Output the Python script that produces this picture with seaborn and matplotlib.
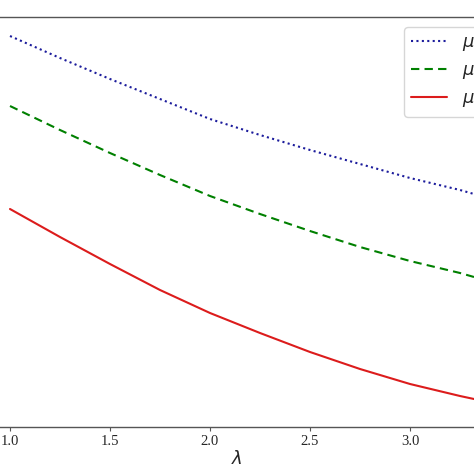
import numpy as np
import pandas as pd
import matplotlib
matplotlib.use("Agg")
import matplotlib.pyplot as plt
import seaborn as sns

# values (y in arbitrary units, the y axis is cut off)
lam = [1.0, 1.25, 1.5, 1.75, 2.0, 2.25, 2.5, 2.75, 3.0, 3.25, 3.32]
mu_1 = [3.91, 3.69, 3.48, 3.28, 3.08, 2.92, 2.77, 2.63, 2.49, 2.37, 2.33]
mu_2 = [3.21, 2.97, 2.74, 2.52, 2.31, 2.13, 1.96, 1.80, 1.66, 1.54, 1.50]
mu_3 = [2.18, 1.90, 1.63, 1.37, 1.14, 0.94, 0.75, 0.58, 0.43, 0.31, 0.28]
labels = [r"$\mu_1$", r"$\mu_2$", r"$\mu_3$"]

df = pd.DataFrame({"lam": lam, labels[0]: mu_1, labels[1]: mu_2, labels[2]: mu_3})
df_long = df.melt(id_vars="lam", var_name="serie", value_name="valor")

sns.set_style("ticks")
plt.rcParams["font.family"] = ["Liberation Serif", "DejaVu Serif"]
plt.rcParams["mathtext.fontset"] = "dejavusans"

fig = plt.figure(figsize=(4.74, 4.74), dpi=100)
# the original is a crop of a bigger figure: axes run past the left/right edges
ax = fig.add_axes([-0.1, 47 / 474, 1.2, 410 / 474])

cores = {labels[0]: "#1c1c9c", labels[1]: "green", labels[2]: "#dc1c1c"}
estilos = {labels[0]: (0, (1, 1.6)), labels[1]: (0, (4, 2.5)), labels[2]: "-"}
sns.lineplot(data=df_long, x="lam", y="valor", hue="serie", style="serie",
             palette=cores, dashes=False, ax=ax, linewidth=1.5, legend=False)
for linha, nome in zip(ax.get_lines(), labels):
    linha.set_linestyle(estilos[nome])
    linha.set_label(nome)

ax.set_xlim(0.713, 3.557)
ax.set_ylim(0, 4.1)
ax.set_xticks([1.0, 1.5, 2.0, 2.5, 3.0])
ax.set_xticklabels(["1.0", "1.5", "2.0", "2.5", "3.0"], fontsize=10.5)
ax.set_yticks([])
ax.set_xlabel(r"$\lambda$", fontsize=13, labelpad=1)
ax.set_ylabel("")
for s in ax.spines.values():
    s.set_color("#555555")
    s.set_linewidth(1.0)
ax.tick_params(axis="x", length=3, width=0.8, color="#555555", pad=3)

ax.legend(handles=ax.get_lines(), labels=labels, loc="upper left",
          bbox_to_anchor=(404 / 474, 1 - 27 / 474), bbox_transform=fig.transFigure,
          fontsize=13, frameon=True, framealpha=0.8, edgecolor="#cccccc",
          borderaxespad=0)

fig.savefig("out.png", dpi=100)
